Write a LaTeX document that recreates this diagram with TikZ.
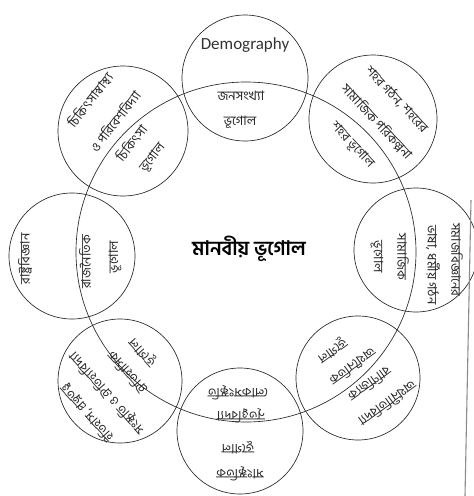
\documentclass[tikz,border=0pt]{standalone}
\usepackage{fontspec}
\newfontfamily\bnfont[Script=Bengali]{Hind Siliguri}
\newfontfamily\latfont{Carlito}
\begin{document}
\begin{tikzpicture}[x=1pt,y=-1pt,
  ring/.style={draw=black!85, line width=0.65pt, circle, inner sep=0pt},
  bn/.style={font=\bnfont\fontsize{13}{15}\selectfont, text=black!85, inner sep=0pt},
  lat/.style={font=\latfont\fontsize{17}{19}\selectfont, text=black!80, inner sep=0pt},
  ttl/.style={font=\bnfont\bfseries\fontsize{20}{22}\selectfont, text=black, inner sep=0pt}]
\useasboundingbox (0,0) rectangle (474,496);
\fill[white] (0,0) rectangle (474,496);
% big circle
\node[ring, minimum size=340pt] (big) at (246,252) {};
% small circles
\node[ring, minimum size=126pt] (ctop) at (245,78) {};
\node[ring, minimum size=128pt] (ctr) at (373,119) {};
\node[ring, minimum size=124pt] (cr) at (416,250) {};
\node[ring, minimum size=124pt] (cbr) at (358,378) {};
\node[ring, minimum size=126pt] (cb) at (240,431) {};
\node[ring, minimum size=124pt] (cbl) at (120,381) {};
\node[ring, minimum size=126pt] (cl) at (72,256) {};
\node[ring, minimum size=130pt] (ctl) at (123,131) {};
% page edge
\coordinate (pe1) at (471,200);
\coordinate (pe2) at (465,496);
\draw[black!45, line width=1.1pt] (pe1) -- (pe2);
% centre title
\node[ttl] (title) at (249,249) {মানবীয় ভূগোল};
% top
\node[lat] (demo) at (245,45) {Demography};
\node[bn] (top1) at (241,96) {জনসংখ্যা};
\node[bn] (top2) at (240,122) {ভূগোল};
% top right
\node[bn, rotate=-47] (tr1) at (397,99) {শহর গঠন, শহরের};
\node[bn, rotate=-47] (tr2) at (377,122) {সামাজিক পরিকল্পনা};
\node[bn, rotate=-47] (tr3) at (352,145) {শহর ভূগোল};
% top left
\node[bn, rotate=52] (tl1) at (90,100) {চিকিৎসাস্বাস্থ্য};
\node[bn, rotate=52] (tl2) at (115,121) {ও পরিবেশবিদ্যা};
\node[bn, rotate=52] (tl3) at (131,143) {চিকিৎসা};
\node[bn, rotate=52] (tl4) at (153,158) {ভূগোল};
% left
\node[bn, rotate=90] (l1) at (25,259) {রাষ্ট্রবিজ্ঞান};
\node[bn, rotate=90] (l2) at (85,262) {রাজনৈতিক};
\node[bn, rotate=90] (l3) at (115,257) {ভূগোল};
% right
\node[bn, rotate=-90] (r1) at (457,260) {সমাজবিজ্ঞানের};
\node[bn, rotate=-90] (r2) at (433,265) {ভাষা, ধর্মীয় গঠন};
\node[bn, rotate=-90] (r3) at (403,257) {সামাজিক};
\node[bn, rotate=-90] (r4) at (377,257) {ভূগোল};
% bottom right
\node[bn, rotate=-144] (br1) at (388,404) {অর্থনীতিবিদ্যা};
\node[bn, rotate=-144] (br2) at (370,384) {বাণিজ্যিক};
\node[bn, rotate=-144] (br3) at (353,367) {অর্থনৈতিক};
\node[bn, rotate=-144] (br4) at (332,350) {ভূগোল};
% bottom
\node[bn, rotate=180] (b1) at (240,474) {সাংস্কৃতিক};
\node[bn, rotate=180] (b2) at (238,448) {ভূগোল};
\node[bn, rotate=180] (b3) at (241,416) {নৃতত্ত্ববিদ্যা};
\node[bn, rotate=180] (b4) at (238,393) {লোকসংস্কৃতি};
% bottom left
\node[bn, rotate=132] (bl1) at (87,413) {ইতিহাস, প্রত্নতত্ত্ব};
\node[bn, rotate=132] (bl2) at (107,393) {সংস্কৃতি ও ঐতিহ্যবিদ্যা};
\node[bn, rotate=132] (bl3) at (127,373) {ঐতিহাসিক};
\node[bn, rotate=132] (bl4) at (143,352) {ভূগোল};
\end{tikzpicture}
\end{document}
